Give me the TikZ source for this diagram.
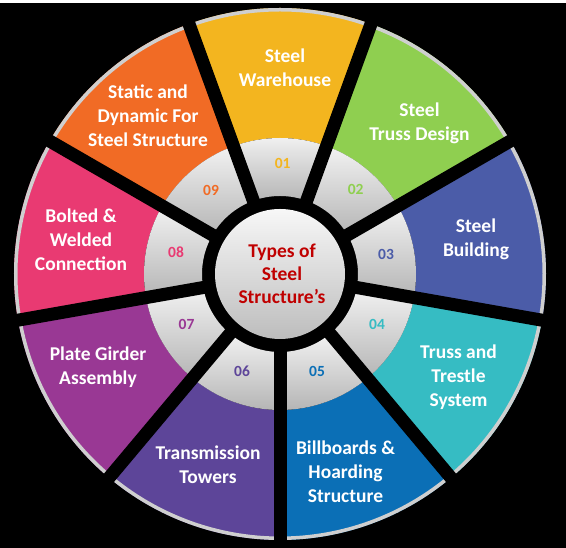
\documentclass[tikz,border=0pt]{standalone}
\usepackage{fontspec}
\newfontfamily\carl{Carlito}
\definecolor{c1}{HTML}{F3B51F}
\definecolor{c2}{HTML}{8FCF50}
\definecolor{c3}{HTML}{4B5CA8}
\definecolor{c4}{HTML}{36BCC3}
\definecolor{c5}{HTML}{0B6FB6}
\definecolor{c6}{HTML}{5D4599}
\definecolor{c7}{HTML}{993894}
\definecolor{c8}{HTML}{E93A72}
\definecolor{c9}{HTML}{F16B25}
\definecolor{ringtop}{HTML}{F2F2F2}
\definecolor{ringbot}{HTML}{B5B5B5}
\definecolor{disctop}{HTML}{F7F7F7}
\definecolor{discbot}{HTML}{BDBDBD}
\definecolor{rimgray}{HTML}{CFCFCF}
\definecolor{centred}{HTML}{C00000}
\begin{document}
\begin{tikzpicture}[x=1pt,y=1pt,
  lbl/.style={text=white,font=\carl\bfseries\fontsize{19.5}{24}\selectfont,align=center},
  num/.style={font=\carl\bfseries\fontsize{15.5}{18}\selectfont},
  spoke/.style={line width=13pt,black},
  rim/.style={line width=3.5pt,color=rimgray}]
\useasboundingbox (0,0) rectangle (566,548);
\fill[black] (0,0) rectangle (566,548);
\fill[white] (0,545) rectangle (566,548);
\begin{scope}[shift={(280,274)}]
\foreach \k/\col in {0/c1,1/c2,2/c3,3/c4,4/c5,5/c6,6/c7,7/c8,8/c9}{
  \pgfmathsetmacro\s{70-40*\k}
  \pgfmathsetmacro\e{110-40*\k}
  \fill[\col] (\s:136pt) -- (\s:266pt) arc[start angle=\s,end angle=\e,radius=266pt]
     -- (\e:136pt) arc[start angle=\e,end angle=\s,radius=136pt] -- cycle;
  \draw[rim] (\s:264.25pt) arc[start angle=\s,end angle=\e,radius=264.25pt];
  \shade[top color=ringtop,bottom color=ringbot] (\s:78pt) -- (\s:136pt)
     arc[start angle=\s,end angle=\e,radius=136pt]
     -- (\e:78pt) arc[start angle=\e,end angle=\s,radius=78pt] -- cycle;
}
\foreach \k in {0,...,8}{
  \pgfmathsetmacro\d{110-40*\k}
  \draw[spoke] (0,0) -- (\d:276pt);
}
\shade[top color=disctop,bottom color=discbot] (0,0) circle[radius=65pt];
\end{scope}
\node[lbl] (t1) at (285,480.4) {Steel\\Warehouse};
\node[lbl] (t2) at (419.5,425) {Steel\\Truss Design};
\node[lbl] (t3) at (476,308.6) {Steel\\Building};
\node[lbl] (t4) at (458.5,170.5) {Truss and\\Trestle\\System};
\node[lbl] (t5) at (345.5,76) {Billboards \&\\Hoarding\\Structure};
\node[lbl] (t6) at (208,83) {Transmission\\Towers};
\node[lbl] (t7) at (98,181) {Plate Girder\\Assembly};
\node[lbl] (t8) at (81,308) {Bolted \&\\Welded\\Connection};
\node[lbl] (t9) at (148,432) {Static and\\Dynamic For\\Steel Structure};
\node[num,text=c1] (n1) at (282.7,384.7) {01};
\node[num,text=c2] (n2) at (355.7,359) {02};
\node[num,text=c3] (n3) at (386,294) {03};
\node[num,text=c4] (n4) at (377,224) {04};
\node[num,text=c5] (n5) at (317,176.5) {05};
\node[num,text=c6] (n6) at (242,177) {06};
\node[num,text=c7] (n7) at (186.6,223.4) {07};
\node[num,text=c8] (n8) at (176,295.5) {08};
\node[num,text=c9] (n9) at (211,358) {09};
\node[lbl,text=centred,font=\carl\bfseries\fontsize{19.5}{23}\selectfont] (ctr) at (282,274) {Types of\\Steel\\Structure’s};
\end{tikzpicture}
\end{document}
